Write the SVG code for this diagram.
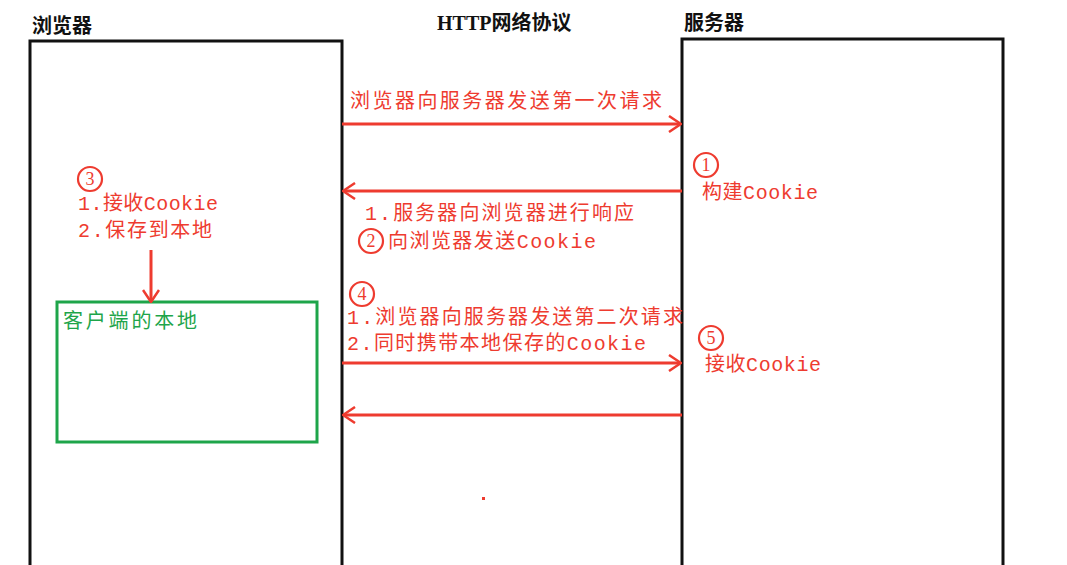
<svg xmlns="http://www.w3.org/2000/svg" width="1067" height="565" viewBox="0 0 1067 565">
<style>
.t{font-family:"Liberation Mono","Noto Sans CJK SC",monospace;font-size:20px;fill:#ee3b2f}
.h{font-family:"Liberation Serif","Noto Sans CJK SC",serif;font-size:20px;font-weight:bold;fill:#111}
.box{fill:none;stroke:#111;stroke-width:3}
.a{stroke:#ee3b2f;stroke-width:3;fill:none}
.c{fill:none;stroke:#ee3b2f;stroke-width:2.2}
.n{font-family:"Liberation Serif",serif;font-size:18px;fill:#ee3b2f;text-anchor:middle}
</style>
<defs><marker id="ah" markerWidth="14" markerHeight="18" refX="13" refY="9" orient="auto" markerUnits="userSpaceOnUse"><path d="M1,1 L13,9 L1,17" fill="none" stroke="#ee3b2f" stroke-width="2.5"/></marker></defs>
<rect width="1067" height="565" fill="#fff"/>
<g id="browser"><rect class="box" x="30" y="41" width="312" height="540"/><text class="h" x="32" y="33">浏览器</text></g>
<g id="server"><rect class="box" x="682" y="39" width="321" height="540"/><text class="h" x="684" y="30">服务器</text></g>
<g id="http"><text class="h" x="437" y="30" font-size="18">HTTP网络协议</text></g>
<g id="local"><rect x="57" y="302" width="260" height="140" fill="none" stroke="#1ea54a" stroke-width="3"/><text x="63" y="328" font-family="Liberation Mono,'Noto Sans CJK SC',monospace" font-size="20" fill="#1ea54a" textLength="134" lengthAdjust="spacing">客户端的本地</text></g>
<g id="labels">
<text class="t" x="350" y="108" textLength="312" lengthAdjust="spacing">浏览器向服务器发送第一次请求</text>
<circle class="c" cx="706" cy="165" r="12"/><text class="n" x="706" y="171">1</text>
<text class="t" x="702" y="199" textLength="116" lengthAdjust="spacing">构建Cookie</text>
<text class="t" x="365" y="220" textLength="269" lengthAdjust="spacing">1.服务器向浏览器进行响应</text>
<circle class="c" cx="371" cy="241" r="12"/><text class="n" x="371" y="247">2</text>
<text class="t" x="388" y="248" textLength="208" lengthAdjust="spacing">向浏览器发送Cookie</text>
<circle class="c" cx="90" cy="179" r="12"/><text class="n" x="90" y="185">3</text>
<text class="t" x="78" y="210" textLength="140" lengthAdjust="spacing">1.接收Cookie</text>
<text class="t" x="78" y="237" textLength="134" lengthAdjust="spacing">2.保存到本地</text>
<circle class="c" cx="362" cy="294" r="12"/><text class="n" x="362" y="300">4</text>
<text class="t" x="347" y="324" textLength="336" lengthAdjust="spacing">1.浏览器向服务器发送第二次请求</text>
<text class="t" x="347" y="350" textLength="299" lengthAdjust="spacing">2.同时携带本地保存的Cookie</text>
<circle class="c" cx="711" cy="338" r="12"/><text class="n" x="711" y="344">5</text>
<text class="t" x="705" y="371" textLength="116" lengthAdjust="spacing">接收Cookie</text>
</g>
<g id="connectors">
<line class="a" x1="342" y1="124" x2="681" y2="124" marker-end="url(#ah)"/>
<line class="a" x1="682" y1="191" x2="343" y2="191" marker-end="url(#ah)"/>
<line class="a" x1="342" y1="363" x2="681" y2="363" marker-end="url(#ah)"/>
<line class="a" x1="682" y1="415" x2="343" y2="415" marker-end="url(#ah)"/>
<line class="a" x1="151" y1="250" x2="151" y2="302" marker-end="url(#ah)"/>
</g>
<rect x="482" y="497" width="3" height="3" fill="#ee3b2f"/>
</svg>
